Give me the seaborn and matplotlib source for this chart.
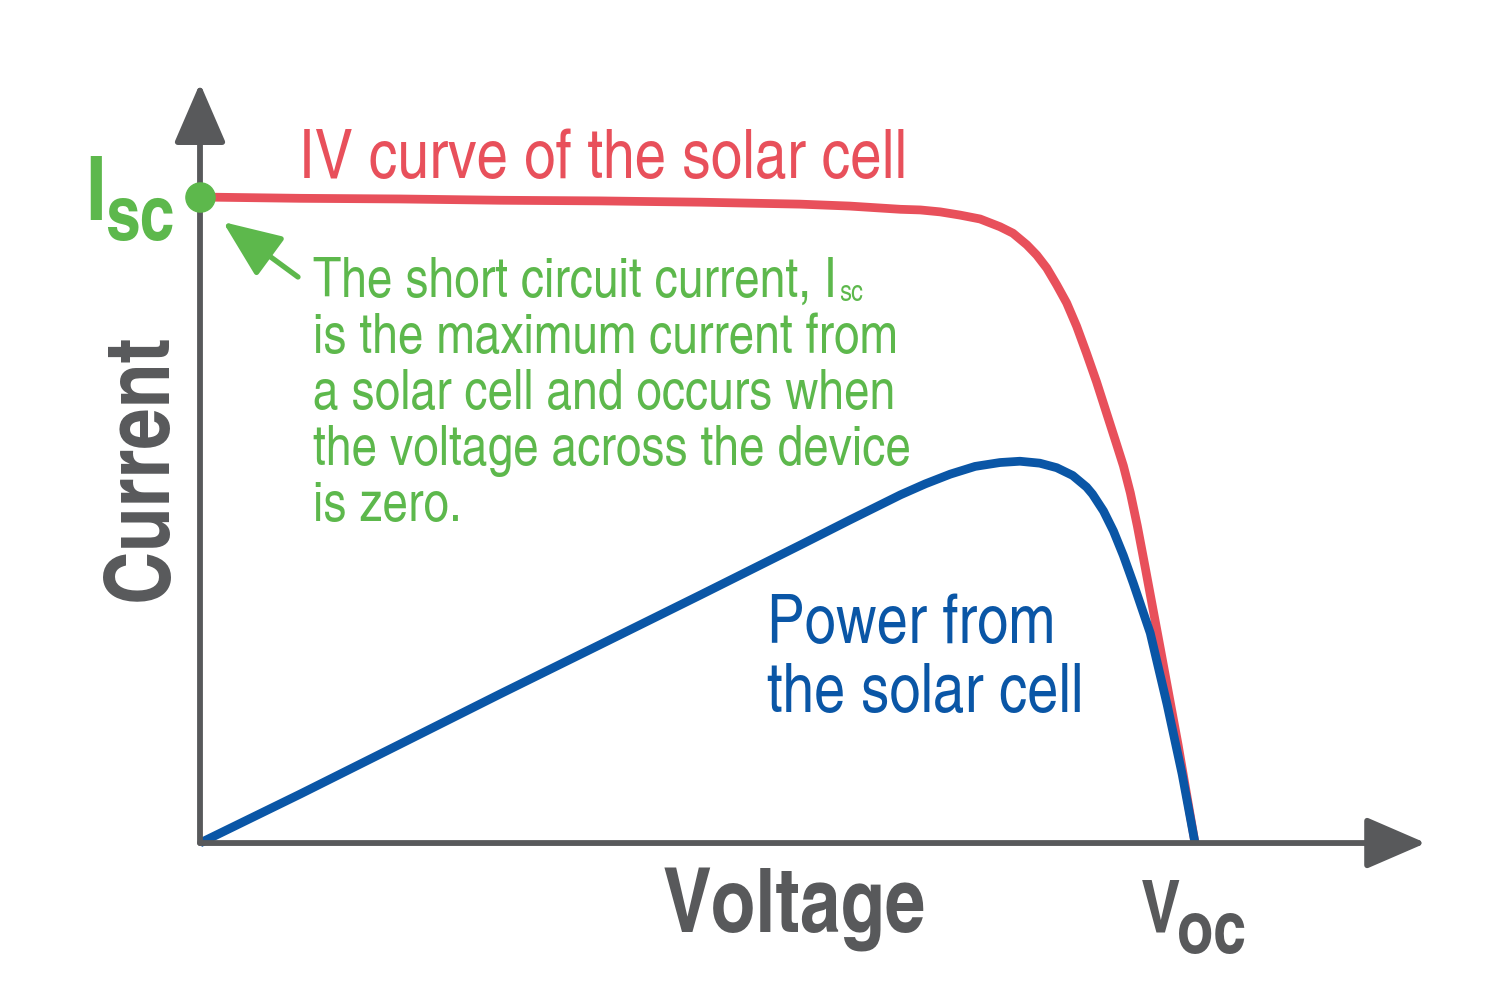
import matplotlib
matplotlib.use("Agg")
import matplotlib.pyplot as plt
import seaborn as sns
import pandas as pd

# voltage as fraction of Voc, current / power as fraction of Isc
iv_voltage = [0.000, 0.101, 0.201, 0.302, 0.402, 0.503, 0.603, 0.653, 0.704, 0.724,
              0.744, 0.764, 0.784, 0.804, 0.817, 0.831, 0.841, 0.851, 0.861, 0.871,
              0.881, 0.891, 0.901, 0.911, 0.921, 0.928, 0.935, 0.942, 0.950, 0.965,
              0.983, 1.000]
iv_current = [1.000, 0.998, 0.997, 0.995, 0.994, 0.992, 0.989, 0.986, 0.981, 0.980,
              0.977, 0.972, 0.966, 0.954, 0.944, 0.926, 0.910, 0.890, 0.864, 0.836,
              0.800, 0.758, 0.714, 0.666, 0.618, 0.584, 0.542, 0.491, 0.426, 0.302,
              0.152, 0.000]

pw_voltage = [0.000, 0.101, 0.201, 0.302, 0.402, 0.503, 0.603, 0.653, 0.704, 0.729,
              0.754, 0.779, 0.804, 0.824, 0.844, 0.861, 0.877, 0.891, 0.897, 0.908,
              0.918, 0.928, 0.938, 0.955, 0.972, 0.987, 1.000]
pw_power = [0.000, 0.076, 0.153, 0.231, 0.307, 0.384, 0.461, 0.500, 0.539, 0.556,
            0.571, 0.583, 0.589, 0.591, 0.588, 0.581, 0.569, 0.551, 0.540, 0.514,
            0.483, 0.445, 0.402, 0.325, 0.214, 0.107, 0.000]

desc_lines = ["The short circuit current, I",
              "is the maximum current from",
              "a solar cell and occurs when",
              "the voltage across the device",
              "is zero."]

RED = "#e8505b"
GREEN = "#5db84c"
BLUE = "#0a56a6"
GRAY = "#58595b"

sns.set_theme(style="white")
plt.rcParams["font.family"] = ["TeX Gyre Heros Cn", "Roboto Condensed", "DejaVu Sans"]

W, H = 1500, 1000
fig = plt.figure(figsize=(15, 10), dpi=100)
ax = fig.add_axes([0, 0, 1, 1])
ax.set_xlim(-0.201, 1.3065)
ax.set_ylim(-0.243, 1.305)
ax.axis("off")


def fp(x, y):
    # pixel position (from top-left) to figure fraction
    return x / W, 1 - y / H


# axes with arrow heads
axis_style = dict(arrowstyle="-|>,head_length=3.7,head_width=1.6", lw=4.2, color=GRAY,
                  mutation_scale=10, shrinkA=0, shrinkB=0)
ax.annotate("", xy=(0, 1.176), xytext=(0, 0), arrowprops=axis_style)
ax.annotate("", xy=(1.232, 0), xytext=(0, 0), arrowprops=axis_style)

iv = pd.DataFrame({"voltage": iv_voltage, "current": iv_current})
pw = pd.DataFrame({"voltage": pw_voltage, "power": pw_power})
sns.lineplot(data=iv, x="voltage", y="current", ax=ax, color=RED, linewidth=6.3,
             sort=False, estimator=None, solid_capstyle="butt", solid_joinstyle="round")
sns.lineplot(data=pw, x="voltage", y="power", ax=ax, color=BLUE, linewidth=6.3,
             sort=False, estimator=None, solid_capstyle="butt", solid_joinstyle="round")
ax.plot([iv_voltage[0]], [iv_current[0]], "o", color=GREEN, markersize=21, zorder=5)

# arrow pointing at Isc
ax.annotate("", xy=fp(223, 222), xytext=fp(298, 277), xycoords="figure fraction",
            textcoords="figure fraction",
            arrowprops=dict(arrowstyle="-|>,head_length=3.6,head_width=1.5", lw=3.8,
                            color=GREEN, mutation_scale=10, shrinkA=0, shrinkB=0))

# labels
fig.text(*fp(299, 178), "IV curve of the solar cell", color=RED, fontsize=50, va="baseline")
desc = []
for i, line in enumerate(desc_lines):
    desc.append(fig.text(*fp(313, 297 + 56 * i), line, color=GREEN, fontsize=40.5,
                         va="baseline"))

fig.text(*fp(767, 643), "Power from", color=BLUE, fontsize=49.5, va="baseline")
fig.text(*fp(767, 712), "the solar cell", color=BLUE, fontsize=49.5, va="baseline")

fig.text(*fp(85, 220), "I", color=GREEN, fontsize=65, fontweight="bold", va="baseline")
fig.text(*fp(105, 240), "sc", color=GREEN, fontsize=55, fontweight="bold", va="baseline")

fig.text(*fp(144, 467), "Current", color=GRAY, fontsize=65, fontweight="bold",
         rotation=90, ha="center", va="center")
fig.text(*fp(663, 932), "Voltage", color=GRAY, fontsize=64, fontweight="bold", va="baseline")
fig.text(*fp(1141, 933), "V", color=GRAY, fontsize=52, fontweight="bold", va="baseline")
fig.text(*fp(1177, 953), "oc", color=GRAY, fontsize=52, fontweight="bold", va="baseline")

# small subscript right after the first description line
fig.canvas.draw()
bb = desc[0].get_window_extent()
fig.text(bb.x1 / W + 2 / W, 1 - 301 / H, "sc", color=GREEN, fontsize=21, va="baseline")

fig.savefig("out.png", dpi=100, facecolor="white")
